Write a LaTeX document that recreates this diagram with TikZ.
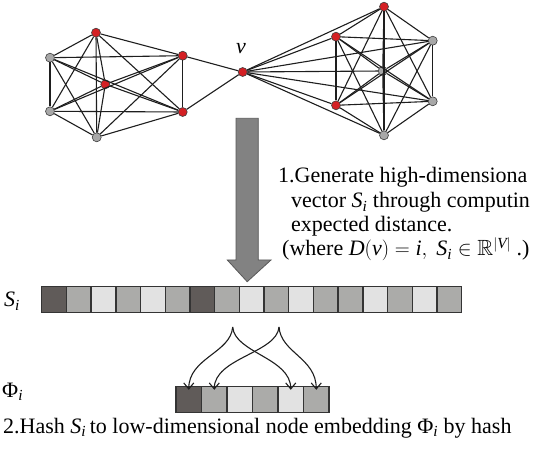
\documentclass[tikz,border=0pt]{standalone}
\usepackage{amssymb}
\usepackage{amsmath}
\usepackage{fontspec}
\setmainfont{Liberation Serif}
\usetikzlibrary{arrows.meta}

\definecolor{vertexred}{RGB}{212,32,36}
\definecolor{vertexgray}{RGB}{168,168,168}
\definecolor{vertexline}{RGB}{60,60,60}
\definecolor{edgecol}{RGB}{30,30,30}
\definecolor{cellD}{RGB}{96,91,89}
\definecolor{cellM}{RGB}{171,171,169}
\definecolor{cellL}{RGB}{226,226,226}
\definecolor{cellline}{RGB}{52,52,52}
\definecolor{arrowfill}{RGB}{130,130,130}
\definecolor{arrowline}{RGB}{88,88,88}

\begin{document}
\begin{tikzpicture}[x=1pt,y=1pt,yscale=-1,
  redvertex/.style={circle,draw=vertexline,fill=vertexred,line width=0.6pt,minimum size=9pt,inner sep=0pt},
  grayvertex/.style={circle,draw=vertexline,fill=vertexgray,line width=0.6pt,minimum size=9pt,inner sep=0pt},
  graphedge/.style={draw=edgecol,line width=1.1pt},
  cell/.style={draw=cellline,line width=1.4pt,minimum width=24.7pt,minimum height=26pt,inner sep=0pt},
  hasharrow/.style={draw=edgecol,line width=1.1pt,-{Straight Barb[length=6pt,width=10pt]}},
  txt/.style={font=\fontsize{22}{24}\selectfont,inner sep=0pt,anchor=base west}]
\useasboundingbox (0,0) rectangle (536,449);

%Left cluster
\node[grayvertex] (L1) at (50,57.7) {};
\node[redvertex]  (L2) at (96,32.7) {};
\node[redvertex]  (L3) at (182.7,55.7) {};
\node[redvertex]  (L4) at (105.3,84.3) {};
\node[grayvertex] (L5) at (50,111.3) {};
\node[grayvertex] (L6) at (96.7,137.3) {};
\node[redvertex]  (L7) at (182.7,112) {};

%Right cluster
\node[redvertex]  (R1) at (384,6.7) {};
\node[redvertex]  (R2) at (336,36.7) {};
\node[grayvertex] (R3) at (432.7,40.7) {};
\node[grayvertex] (R4) at (382.7,71) {};
\node[redvertex]  (R5) at (336,105.3) {};
\node[grayvertex] (R6) at (432.7,101.3) {};
\node[grayvertex] (R7) at (384,135.3) {};

%Bridge vertex
\node[redvertex] (v) at (242.7,72) {};
\node[txt,anchor=center] (vlabel) at (241,49) {\textit{v}};

%Edges
\foreach \a in {1,...,6}{
  \pgfmathtruncatemacro\n{\a+1}
  \foreach \b in {\n,...,7}{
    \draw[graphedge] (L\a) -- (L\b);
    \draw[graphedge] (R\a) -- (R\b);
  }
}
\draw[graphedge] (L3) -- (v);
\draw[graphedge] (L7) -- (v);
\foreach \b in {1,...,7}
  \draw[graphedge] (v) -- (R\b);

%Shape: Big arrow
\draw[fill=arrowfill,draw=arrowline,line width=0.8pt] (236,118.3) -- (258.3,118.3) -- (258.3,260) -- (271,260) -- (247.2,281.7) -- (227.3,260) -- (236,260) -- cycle;

%Text Node
\node[txt] (step1a) at (278,183) {1.Generate high-dimensiona};
\node[txt] (step1b) at (291,208) {vector $\mathit{S}_{\mathit{i}}$ through computin};
\node[txt] (step1c) at (291,232) {expected distance.};
\node[txt] (step1d) at (282,256) {(where $\mathit{D}(\mathit{v})=\mathit{i},\ \mathit{S}_{\mathit{i}}\in\mathbb{R}^{|\mathit{V}|}$ .)};

%High-dimensional vector
\node[txt] (slabel) at (4,307) {$\mathit{S}_{\mathit{i}}$};
\foreach \c [count=\k] in {D,M,L,M,L,M,D,M,L,M,L,M,M,L,M,L,M}
  \node[cell,fill=cell\c] (s\k) at ({41.7+(\k-0.5)*24.7},299.7) {};

%Low-dimensional embedding
\node[txt] (plabel) at (2,397) {Φ\textsubscript{\textit{i}}};
\foreach \c [count=\k] in {D,M,L,M,L,M}
  \node[cell,fill=cell\c,minimum width=25.5pt] (p\k) at ({176+(\k-0.5)*25.5},399.5) {};

%Hash arrows
\coordinate (h1) at (232.7,327);
\coordinate (h2) at (279,327);
\draw[hasharrow] (h1) .. controls +(-2,26) and +(0,-32) .. ([yshift=4pt]p1.north);
\draw[hasharrow] (h1) .. controls +(2,26) and +(0,-32) .. ([yshift=4pt]p5.north);
\draw[hasharrow] (h2) .. controls +(-2,26) and +(0,-32) .. ([yshift=4pt]p2.north);
\draw[hasharrow] (h2) .. controls +(2,26) and +(0,-32) .. ([yshift=4pt]p6.north);

%Text Node
\node[txt] (step2) at (3,433) {2.Hash $\mathit{S}_{\mathit{i}}$\,to low-dimensional node embedding Φ\textsubscript{\textit{i}} by hash};

\end{tikzpicture}
\end{document}
